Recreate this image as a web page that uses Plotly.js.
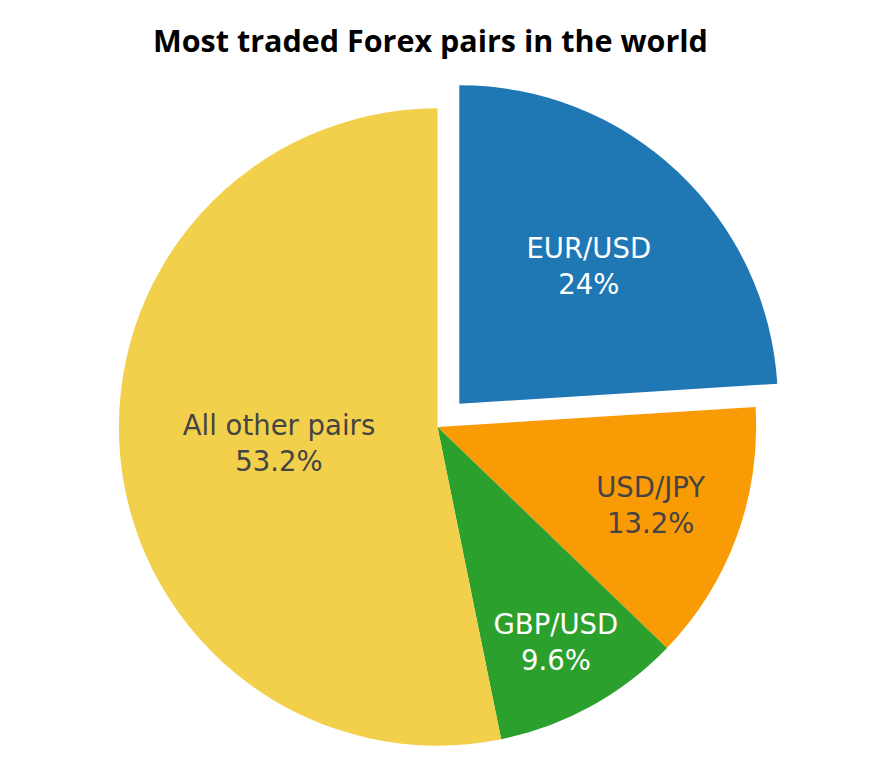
<!DOCTYPE html>
<html>
<head>
<meta charset="utf-8">
<script src="https://cdn.plot.ly/plotly-3.0.1.min.js"></script>
<style>
  html, body { margin: 0; padding: 0; overflow: hidden; background: #fff; }
</style>
</head>
<body>
<div id="chart"></div>
<script>
const pairs = ['EUR/USD', 'USD/JPY', 'GBP/USD', 'All other pairs'];
const shares = [24, 13.2, 9.6, 53.2];
const pullOut = [0.1, 0, 0, 0];
const sliceColors = ['#1f77b4', '#f89b05', '#2ca02c', '#f2d04b'];

const trace = {
    type: 'pie',
    labels: pairs,
    values: shares,
    pull: pullOut,
    sort: false,
    direction: 'clockwise',
    rotation: 0,
    marker: { colors: sliceColors, line: { width: 0 } },
    textinfo: 'label+percent',
    textposition: 'inside',
    insidetextorientation: 'horizontal',
    textfont: { family: 'DejaVu Sans, Verdana, sans-serif', size: 27.5 },
    hoverinfo: 'label+percent',
    showlegend: false,
};

const layout = {
    width: 893,
    height: 800,
    margin: { l: 87, r: 105, t: 76, b: 22 },
    paper_bgcolor: '#ffffff',
    title: {
        text: '<b>Most traded Forex pairs in the world</b>',
        font: { family: 'Open Sans, sans-serif', size: 30.5, color: '#000' },
        x: 0.482,
        xanchor: 'center',
        y: 1 - 41 / 800,
        yanchor: 'middle',
        yref: 'container',
    },
    showlegend: false,
};

Plotly.newPlot('chart', [trace], layout, { displayModeBar: false, staticPlot: true });
</script>
</body>
</html>
